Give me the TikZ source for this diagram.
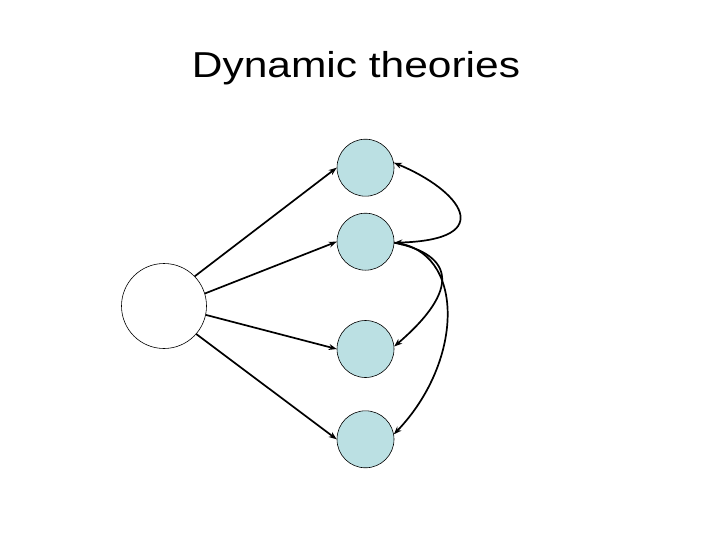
\documentclass[tikz,border=0pt]{standalone}
\usepackage{fontspec}
\setmainfont{Liberation Sans}
\usetikzlibrary{arrows.meta}
\definecolor{nodeblue}{RGB}{187,224,227}
\begin{document}
\begin{tikzpicture}[x=1pt,y=-1pt,
  small/.style={circle,draw=black,line width=0.6pt,fill=nodeblue,minimum size=57pt,inner sep=0pt},
  big/.style={circle,draw=black,line width=0.6pt,fill=white,minimum size=85pt,inner sep=0pt},
  conn/.style={line width=1.7pt,-{Stealth[length=8pt,width=6pt]}},
  dconn/.style={line width=1.7pt,{Stealth[length=8pt,width=6pt]}-{Stealth[length=8pt,width=6pt]}}]
\useasboundingbox (0,0) rectangle (720,540);
\node[anchor=base,font=\fontsize{36}{40}\selectfont] (title) at (356,77.3) {\scalebox{1.18}[1]{Dynamic theories}};
\node[big] (B) at (164,306) {};
\node[small] (n1) at (365.5,167.7) {};
\node[small] (n2) at (365.5,241.7) {};
\node[small] (n3) at (365.5,349) {};
\node[small] (n4) at (365.5,439.3) {};
\draw[conn] (B.44) -- (n1.west);
\draw[conn] (B.17) -- (n2.west);
\draw[conn] (B.-12) -- (n3.west);
\draw[conn] (B.-41) -- (n4.west);
\draw[dconn] (n1.10) .. controls (460,190) and (500,240) .. (n2.-2);
\draw[conn] (n2.-2) .. controls (455,255) and (460,290) .. (n3.5);
\draw[conn] (n2.-2) .. controls (465,250) and (465,360) .. (n4.10);
\end{tikzpicture}
\end{document}
